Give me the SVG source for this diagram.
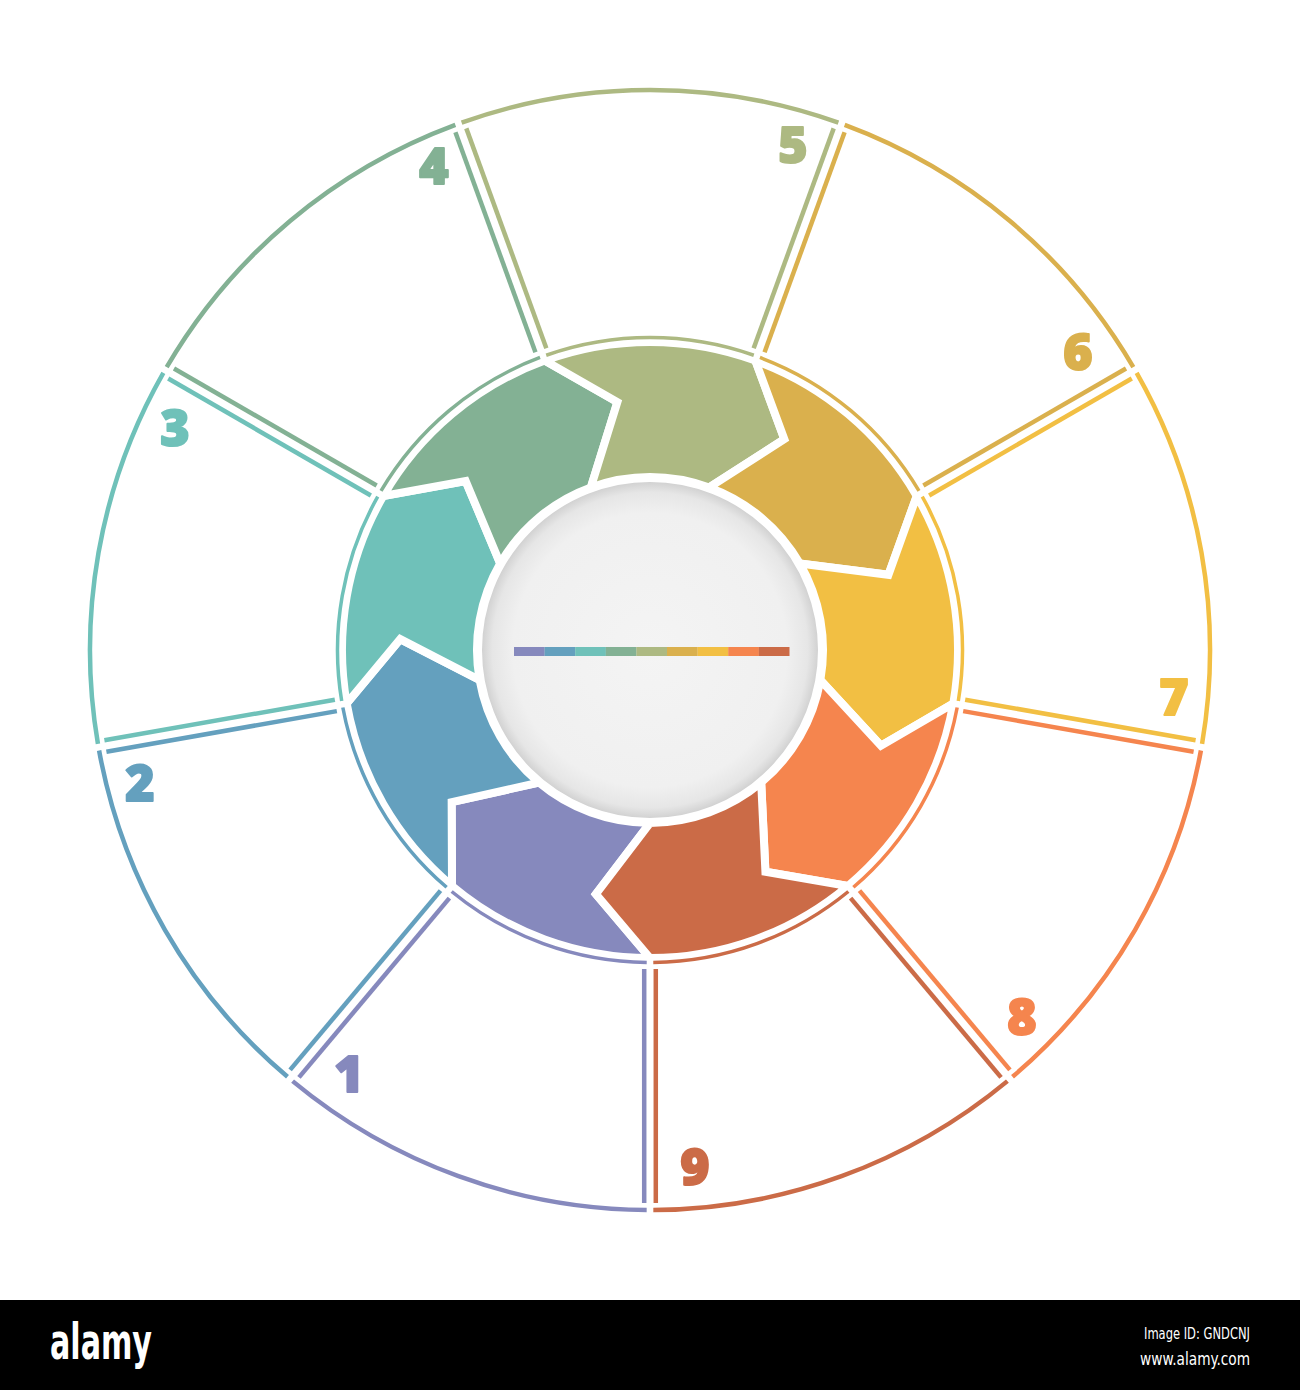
<svg xmlns="http://www.w3.org/2000/svg" width="1300" height="1390" viewBox="0 0 1300 1390">
  <defs>
    <radialGradient id="disc" cx="50%" cy="50%" r="50%">
      <stop offset="0" stop-color="#f4f4f4"/>
      <stop offset="0.8" stop-color="#f0f0f0"/>
      <stop offset="0.92" stop-color="#e6e6e6"/>
      <stop offset="1" stop-color="#cbcbcb"/>
    </radialGradient>
    <path id="arrowShape" d="M544.66,360.57 A308,308 0 0 1 755.34,360.57 L784.33,439.15 L709.17,487.43 A173,173 0 0 0 590.83,487.43 L617.37,402.14 Z"/>
    <path id="innerArc" d="M546.20,355.24 A312.5,312.5 0 0 1 753.80,355.24"/>
    <path id="outerArc" d="M461.60,122.64 A560,560 0 0 1 838.40,122.64"/>
  </defs>
  <style>
    .arrow { stroke: #ffffff; stroke-width: 8; stroke-linejoin: miter; }
    .thin { fill: none; stroke-width: 3.5; }
    .rim { fill: none; stroke-width: 4.5; }
    .div { stroke-width: 4.5; stroke-linecap: butt; }
    .num { font-family: "Open Sans", "DejaVu Sans", sans-serif; font-weight: 800; font-size: 50px; text-anchor: middle; stroke-width: 2; stroke-linejoin: round; }
    .c1 { fill: #8689bd; stroke: #8689bd; }
    .c2 { fill: #64a0be; stroke: #64a0be; }
    .c3 { fill: #6fc1b9; stroke: #6fc1b9; }
    .c4 { fill: #83b194; stroke: #83b194; }
    .c5 { fill: #adb982; stroke: #adb982; }
    .c6 { fill: #dab04d; stroke: #dab04d; }
    .c7 { fill: #f2bf43; stroke: #f2bf43; }
    .c8 { fill: #f5854e; stroke: #f5854e; }
    .c9 { fill: #cb6b47; stroke: #cb6b47; }
    .thin.c1,.thin.c2,.thin.c3,.thin.c4,.thin.c5,.thin.c6,.thin.c7,.thin.c8,.thin.c9,
    .rim.c1,.rim.c2,.rim.c3,.rim.c4,.rim.c5,.rim.c6,.rim.c7,.rim.c8,.rim.c9 { fill: none; }
  </style>
  <rect width="1300" height="1390" fill="#ffffff"/>

  <!-- inner arrow ring -->
  <g id="arrows">
    <g id="arrow-1"><use href="#arrowShape" class="arrow c1" style="stroke:#fff" transform="rotate(-160 650 650)"/></g>
    <g id="arrow-2"><use href="#arrowShape" class="arrow c2" style="stroke:#fff" transform="rotate(-120 650 650)"/></g>
    <g id="arrow-3"><use href="#arrowShape" class="arrow c3" style="stroke:#fff" transform="rotate(-80 650 650)"/></g>
    <g id="arrow-4"><use href="#arrowShape" class="arrow c4" style="stroke:#fff" transform="rotate(-40 650 650)"/></g>
    <g id="arrow-5"><use href="#arrowShape" class="arrow c5" style="stroke:#fff"/></g>
    <g id="arrow-6"><use href="#arrowShape" class="arrow c6" style="stroke:#fff" transform="rotate(40 650 650)"/></g>
    <g id="arrow-7"><use href="#arrowShape" class="arrow c7" style="stroke:#fff" transform="rotate(80 650 650)"/></g>
    <g id="arrow-8"><use href="#arrowShape" class="arrow c8" style="stroke:#fff" transform="rotate(120 650 650)"/></g>
    <g id="arrow-9"><use href="#arrowShape" class="arrow c9" style="stroke:#fff" transform="rotate(160 650 650)"/></g>
  </g>

  <!-- center disc -->
  <g id="center">
    <circle cx="650" cy="650" r="171.5" fill="url(#disc)" stroke="#ffffff" stroke-width="7"/>
    <rect x="514" y="647" width="30.7" height="9" fill="#8689bd"/>
    <rect x="544.6" y="647" width="30.7" height="9" fill="#64a0be"/>
    <rect x="575.2" y="647" width="30.7" height="9" fill="#6fc1b9"/>
    <rect x="605.8" y="647" width="30.7" height="9" fill="#83b194"/>
    <rect x="636.4" y="647" width="30.7" height="9" fill="#adb982"/>
    <rect x="667" y="647" width="30.7" height="9" fill="#dab04d"/>
    <rect x="697.6" y="647" width="30.7" height="9" fill="#f2bf43"/>
    <rect x="728.2" y="647" width="30.7" height="9" fill="#f5854e"/>
    <rect x="758.8" y="647" width="30.7" height="9" fill="#cb6b47"/>
  </g>

  <!-- outer frame sectors: arcs and double dividers -->
  <g id="connectors">
    <g id="sector-1" class="c1" transform="rotate(-160 650 650)">
      <use href="#innerArc" class="thin c1"/><use href="#outerArc" class="rim c1"/>
      <line class="div" x1="655.8" y1="331" x2="655.8" y2="97" transform="rotate(-20 650 650)"/>
      <line class="div" x1="644.2" y1="331" x2="644.2" y2="97" transform="rotate(20 650 650)"/>
    </g>
    <g id="sector-2" class="c2" transform="rotate(-120 650 650)">
      <use href="#innerArc" class="thin c2"/><use href="#outerArc" class="rim c2"/>
      <line class="div" x1="655.8" y1="331" x2="655.8" y2="97" transform="rotate(-20 650 650)"/>
      <line class="div" x1="644.2" y1="331" x2="644.2" y2="97" transform="rotate(20 650 650)"/>
    </g>
    <g id="sector-3" class="c3" transform="rotate(-80 650 650)">
      <use href="#innerArc" class="thin c3"/><use href="#outerArc" class="rim c3"/>
      <line class="div" x1="655.8" y1="331" x2="655.8" y2="97" transform="rotate(-20 650 650)"/>
      <line class="div" x1="644.2" y1="331" x2="644.2" y2="97" transform="rotate(20 650 650)"/>
    </g>
    <g id="sector-4" class="c4" transform="rotate(-40 650 650)">
      <use href="#innerArc" class="thin c4"/><use href="#outerArc" class="rim c4"/>
      <line class="div" x1="655.8" y1="331" x2="655.8" y2="97" transform="rotate(-20 650 650)"/>
      <line class="div" x1="644.2" y1="331" x2="644.2" y2="97" transform="rotate(20 650 650)"/>
    </g>
    <g id="sector-5" class="c5">
      <use href="#innerArc" class="thin c5"/><use href="#outerArc" class="rim c5"/>
      <line class="div" x1="655.8" y1="331" x2="655.8" y2="97" transform="rotate(-20 650 650)"/>
      <line class="div" x1="644.2" y1="331" x2="644.2" y2="97" transform="rotate(20 650 650)"/>
    </g>
    <g id="sector-6" class="c6" transform="rotate(40 650 650)">
      <use href="#innerArc" class="thin c6"/><use href="#outerArc" class="rim c6"/>
      <line class="div" x1="655.8" y1="331" x2="655.8" y2="97" transform="rotate(-20 650 650)"/>
      <line class="div" x1="644.2" y1="331" x2="644.2" y2="97" transform="rotate(20 650 650)"/>
    </g>
    <g id="sector-7" class="c7" transform="rotate(80 650 650)">
      <use href="#innerArc" class="thin c7"/><use href="#outerArc" class="rim c7"/>
      <line class="div" x1="655.8" y1="331" x2="655.8" y2="97" transform="rotate(-20 650 650)"/>
      <line class="div" x1="644.2" y1="331" x2="644.2" y2="97" transform="rotate(20 650 650)"/>
    </g>
    <g id="sector-8" class="c8" transform="rotate(120 650 650)">
      <use href="#innerArc" class="thin c8"/><use href="#outerArc" class="rim c8"/>
      <line class="div" x1="655.8" y1="331" x2="655.8" y2="97" transform="rotate(-20 650 650)"/>
      <line class="div" x1="644.2" y1="331" x2="644.2" y2="97" transform="rotate(20 650 650)"/>
    </g>
    <g id="sector-9" class="c9" transform="rotate(160 650 650)">
      <use href="#innerArc" class="thin c9"/><use href="#outerArc" class="rim c9"/>
      <line class="div" x1="655.8" y1="331" x2="655.8" y2="97" transform="rotate(-20 650 650)"/>
      <line class="div" x1="644.2" y1="331" x2="644.2" y2="97" transform="rotate(20 650 650)"/>
    </g>
  </g>

  <!-- numbers -->
  <g id="labels">
    <text id="label-1" class="num c1" x="349" y="1092">1</text>
    <text id="label-2" class="num c2" x="140" y="801">2</text>
    <text id="label-3" class="num c3" x="175" y="446">3</text>
    <text id="label-4" class="num c4" x="434" y="184">4</text>
    <text id="label-5" class="num c5" x="793" y="163">5</text>
    <text id="label-6" class="num c6" x="1078" y="370">6</text>
    <text id="label-7" class="num c7" x="1174" y="715">7</text>
    <text id="label-8" class="num c8" x="1022" y="1035">8</text>
    <text id="label-9" class="num c9" x="695" y="1185">9</text>
  </g>

  <!-- footer band -->
  <g id="footer">
    <rect x="0" y="1300" width="1300" height="90" fill="#000000"/>
    <text x="50" y="1359" fill="#ffffff" font-family="DejaVu Sans Condensed, DejaVu Sans, sans-serif" font-weight="700" font-size="50" textLength="102" lengthAdjust="spacingAndGlyphs">alamy</text>
    <text x="1250" y="1339" fill="#ffffff" font-family="DejaVu Sans Condensed, DejaVu Sans, sans-serif" font-size="15" text-anchor="end" textLength="106" lengthAdjust="spacingAndGlyphs">Image ID: GNDCNJ</text>
    <text x="1250" y="1365" fill="#ffffff" font-family="DejaVu Sans Condensed, DejaVu Sans, sans-serif" font-size="18" text-anchor="end" textLength="110" lengthAdjust="spacingAndGlyphs">www.alamy.com</text>
  </g>
</svg>
